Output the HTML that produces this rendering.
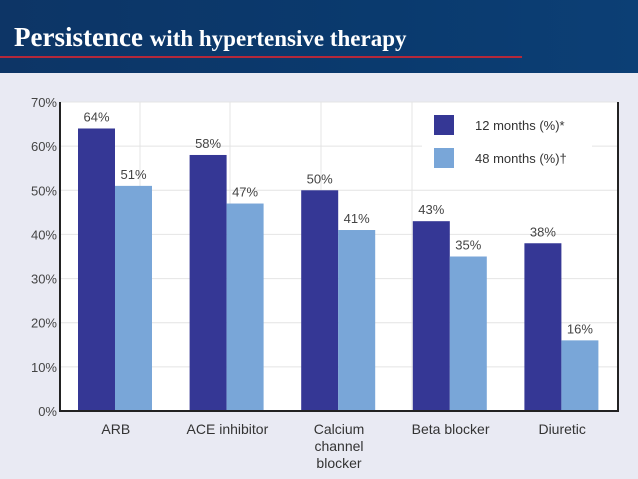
<!DOCTYPE html>
<html><head><meta charset="utf-8"><style>
body{margin:0;width:638px;height:479px;overflow:hidden;background:#e9eaf3;font-family:"Liberation Sans",sans-serif}
#hdr{position:absolute;left:0;top:0;width:638px;height:73px;background:linear-gradient(90deg,#0d3566,#0a3a6e 60%,#0c3f75)}
#title{position:absolute;left:14px;top:22px;color:#fff;font-family:"Liberation Serif",serif;font-weight:bold;font-size:27px;white-space:nowrap}
#rule{position:absolute;left:0;top:56px;width:522px;height:2px;background:#b4283a}
</style></head><body>
<div id="hdr"></div>
<div id="title">Persistence <span style="font-size:23px">with hypertensive therapy</span></div>
<div id="rule"></div>
<svg id="chart" width="638" height="479" style="position:absolute;left:0;top:0"></svg>
<script>
const categories=["ARB","ACE inhibitor","Calcium channel blocker","Beta blocker","Diuretic"];
const labelLines=[["ARB"],["ACE inhibitor"],["Calcium","channel","blocker"],["Beta blocker"],["Diuretic"]];
const months12=[64,58,50,43,38];
const months48=[51,47,41,35,16];
const yTicks=[0,10,20,30,40,50,60,70];
const ns="http://www.w3.org/2000/svg",svg=document.getElementById("chart");
const X0=60,X1=618,Y0=411,Y1=102,MAX=70;
const y=v=>Y0-(v/MAX)*(Y0-Y1);
const cw=(X1-X0)/categories.length;
function mk(t,a,p){const e=document.createElementNS(ns,t);for(const k in a)e.setAttribute(k,a[k]);(p||svg).appendChild(e);return e;}
const plot=mk("rect",{x:X0,y:Y1,width:X1-X0,height:Y0-Y1,fill:"#fff"});


yTicks.forEach(t=>{
 const g=mk("line",{x1:X0,x2:X1,y1:y(t),y2:y(t),stroke:"#e4e4e4","stroke-width":1});
 
 
 const l=mk("text",{x:X0-3,y:y(t)+5,"text-anchor":"end","font-size":13,fill:"#444"});
 l.textContent=t+"%";
 
 
});
[140,230,321,412].forEach(xx=>{
 const v=mk("line",{x1:xx,x2:xx,y1:Y1,y2:Y0,stroke:"#e4e4e4"});
 
 
});
const lg=mk("rect",{x:422,y:106,width:170,height:70,fill:"#fff"});


const ser=[{d:months12,c:"#353795",n:"12 months (%)*",off:18},{d:months48,c:"#79a6d8",n:"48 months (%)†",off:55}];
ser.forEach((s,si)=>{
 s.d.forEach((v,i)=>{
  const bx=X0+i*cw+s.off;
  const r=mk("rect",{x:bx,y:y(v),width:37,height:Y0-y(v),fill:s.c});
  
  
  const t=mk("text",{x:bx+18.5,y:y(v)-7,"text-anchor":"middle","font-size":13,fill:"#444"});
  t.textContent=v+"%";
  
  
 });
 const ly=115+si*33;
 const sq=mk("rect",{x:434,y:ly,width:20,height:20,fill:s.c});
 
 
 const lt=mk("text",{x:475,y:ly+15,"font-size":13,fill:"#333"});
 lt.textContent=s.n;
 
 
});
const ax=mk("path",{d:`M${X0} ${Y1}V${Y0}H${X1}V${Y1}`,fill:"none",stroke:"#222","stroke-width":2});


labelLines.forEach((ls,i)=>{
 ls.forEach((s,j)=>{
  const t=mk("text",{x:X0+i*cw+cw/2,y:434+j*17,"text-anchor":"middle","font-size":14,fill:"#333"});
  t.textContent=s;
  
  
 });
});
</script>
</body></html>
